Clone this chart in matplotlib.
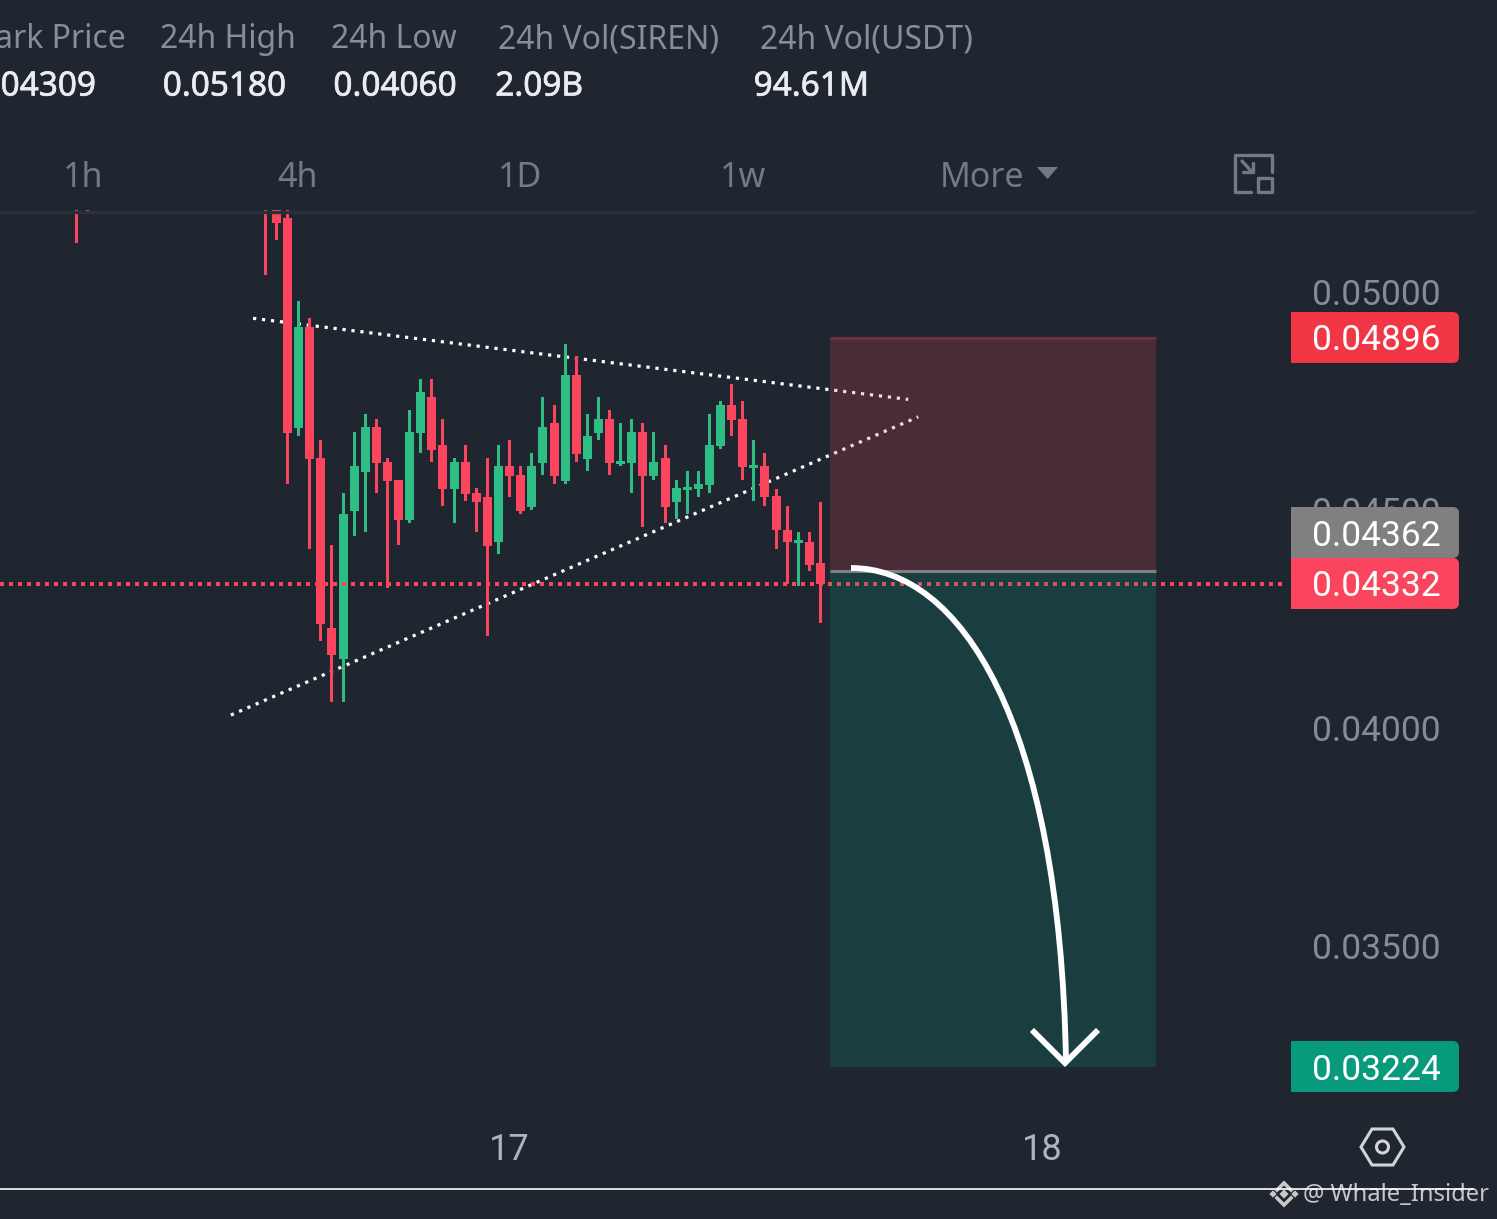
import numpy as np
import matplotlib as mpl
mpl.use("Agg")
import matplotlib.pyplot as plt
import matplotlib.patheffects as pe
from matplotlib.patches import FancyBboxPatch, PathPatch, Polygon, Circle
from matplotlib.path import Path

# prices are stored in units of 0.00001 USDT
indices = list(range(-19, -17)) + list(range(-2, 49))
opens = [5300, 5300, 5300, 5250, 5172, 4690, 4922, 4622, 4232, 4161, 4500, 4589, 4693, 4612, 4571,
         4479, 4679, 4761, 4651, 4550, 4612, 4541, 4532, 4429, 4603, 4583, 4509, 4610, 4702, 4569,
         4812, 4619, 4679, 4711, 4608, 4610, 4681, 4580, 4622, 4521, 4548, 4550, 4560, 4649, 4743,
         4711, 4599, 4603, 4534, 4456, 4427, 4429, 4381]
closes = [5250, 5250, 5250, 5161, 4679, 4922, 4619, 4241, 4170, 4493, 4603, 4693, 4610, 4569, 4479,
          4681, 4773, 4640, 4550, 4612, 4539, 4521, 4420, 4603, 4580, 4500, 4603, 4693, 4580, 4812,
          4631, 4672, 4711, 4610, 4615, 4681, 4580, 4612, 4509, 4553, 4555, 4562, 4651, 4743, 4709,
          4601, 4606, 4532, 4456, 4429, 4433, 4376, 4332]
highs = [5350, 5350, 5350, 5300, 5300, 4982, 4943, 4663, 4422, 4541, 4681, 4722, 4711, 4622, 4571,
         4732, 4803, 4803, 4711, 4622, 4651, 4553, 4622, 4651, 4663, 4603, 4633, 4761, 4743, 4883,
         4856, 4722, 4761, 4732, 4702, 4711, 4702, 4681, 4651, 4571, 4592, 4592, 4722, 4752, 4791,
         4752, 4663, 4633, 4550, 4511, 4452, 4452, 4521]
lows = [5115, 5184, 5041, 5122, 4562, 4672, 4413, 4202, 4062, 4062, 4443, 4452, 4541, 4323, 4422,
        4472, 4633, 4612, 4511, 4472, 4523, 4452, 4213, 4401, 4532, 4493, 4502, 4583, 4562, 4562,
        4612, 4592, 4663, 4583, 4603, 4541, 4463, 4571, 4472, 4482, 4493, 4532, 4541, 4642, 4672,
        4571, 4523, 4511, 4413, 4332, 4328, 4362, 4243]

price_ticks = [0.05, 0.045, 0.04, 0.035]
stop_price = 0.04896
entry_price = 0.04362
last_price = 0.04332
target_price = 0.03224
day_ticks = [20, 68]
day_labels = ["17", "18"]

# trend lines as (candle index, price)
upper_trend = ([-3.1, 55.9], [0.04942, 0.04756])
lower_trend = ([-5.1, 56.8], [0.04032, 0.04716])

header_names = ["Mark Price", "24h High", "24h Low", "24h Vol(SIREN)", "24h Vol(USDT)"]
header_values = ["0.04309", "0.05180", "0.04060", "2.09B", "94.61M"]
tab_labels = ["1h", "4h", "1D", "1w", "More"]

BG = "#1f2630"
RED = "#fb455f"
GREEN = "#2ebd85"
W, H = 1497, 1219

plt.rcParams["font.family"] = ["Roboto", "DejaVu Sans"]

fig = plt.figure(figsize=(W / 100, H / 100), dpi=100, facecolor=BG)

# chart panel: y pixel 210 to 1130, x pixel = 287.5 + 11.104 * candle index
ax = fig.add_axes([0, 1 - 1130 / H, 1, 920 / H], facecolor=BG)
ax.set_xlim(-25.89, 108.92)
ax.set_ylim(0.030803, 0.051904)
for sp in ax.spines.values():
    sp.set_visible(False)
ax.set_xticks([])
ax.set_yticks([])

for i, o, c, h, l in zip(indices, opens, closes, highs, lows):
    col = GREEN if c > o else RED
    z = 2 if c > o else 3
    o, c, h, l = o / 1e5, c / 1e5, h / 1e5, l / 1e5
    ax.bar(i, h - l, bottom=l, width=0.27, color=col, zorder=z, linewidth=0)
    ax.bar(i, abs(c - o), bottom=min(o, c), width=0.81, color=col, zorder=z, linewidth=0)

# dotted trend lines and last price line
for xs, ys in (upper_trend, lower_trend):
    ax.plot(xs, ys, color="white", lw=2.3, ls=(0, (1, 1.82)), zorder=1.5)
ax.plot([-25.89, 89.6], [last_price, last_price], color=RED, lw=2.6, ls=(0, (0.85, 1.64)), zorder=2.5,
        antialiased=False)

# short position box
ax.axhspan(entry_price, stop_price, xmin=830 / W, xmax=1156 / W, facecolor="#f6465d", alpha=0.2,
           linewidth=0, zorder=4)
ax.axhspan(target_price, entry_price, xmin=830 / W, xmax=1156 / W, facecolor="#0aa082", alpha=0.2,
           linewidth=0, zorder=4)
ax.hlines(stop_price, 48.85, 78.2, color="#6e2f3a", lw=2.2, zorder=4.1)
ax.hlines(entry_price, 48.85, 78.2, color="#808080", lw=2.2, zorder=4.1)

# price axis text (0.04500 sits under the grey label)
for p in price_ticks:
    ax.annotate(f"{p:.5f}", (1376 / 11.104 - 25.89, p), xytext=(0, -1.8), textcoords="offset points",
                color="#848c98", fontsize=25.5, ha="center", va="center", zorder=5)
for d, lab in zip(day_ticks, day_labels):
    ax.annotate(lab, (d, 0.03080), xytext=(0, -14.5), textcoords="offset points", color="#aeb4bc",
                fontsize=26, ha="center", va="center", zorder=5, annotation_clip=False)

# overlay in pixel coordinates for the app chrome
ov = fig.add_axes([0, 0, 1, 1], facecolor="none")
ov.set_xlim(0, W)
ov.set_ylim(H, 0)
ov.axis("off")

tag_specs = [(312, "#f23645", "0.04896"), (507, "#808080", "0.04362"),
             (558, "#fb455f", "0.04332"), (1041, "#089a7c", "0.03224")]
for top, col, txt in tag_specs:
    ov.add_patch(FancyBboxPatch((1293, top + 2), 164, 47, boxstyle="round,pad=0,rounding_size=4",
                                fc=col, ec=col, lw=2.8, zorder=6))
    ov.add_patch(Polygon([(1291, top), (1400, top), (1400, top + 51), (1291, top + 51)], fc=col, ec="none", zorder=6))
    ov.text(1376, top + 29, txt, color="white", fontsize=25.5, ha="center", va="center", zorder=7)

# header
name_right = [126, 296, 457, 719, 973]
value_right = [96, 286, 457, 583, 869]
for name, val, nr, vr in zip(header_names, header_values, name_right, value_right):
    ov.text(nr, 40, name, color="#848e9c", fontsize=23, family="Noto Sans", ha="right", va="center")
    ov.text(vr, 87, val, color="#eaecef", fontsize=24, family="Noto Sans", ha="right", va="center",
            path_effects=[pe.withStroke(linewidth=0.5, foreground="#eaecef")])

# tabs
tab_x = [83, 298, 520, 743, 982]
for lab, x in zip(tab_labels, tab_x):
    ov.text(x, 178, lab, color="#707a8a", fontsize=24.5, family="Noto Sans", ha="center", va="center")
ov.add_patch(Polygon([(1037, 167), (1058, 167), (1047.5, 179)], fc="#707a8a", ec="none"))

# layout switch icon
icon = dict(color="#707a8a", lw=2.4, solid_capstyle="round", solid_joinstyle="round")
ov.plot([1272, 1272, 1235, 1235, 1251], [172, 155, 155, 192, 192], **icon)
ov.plot([1258, 1272, 1272, 1258, 1258], [178, 178, 192, 192, 178], **icon)
ov.plot([1242, 1252], [161, 172], **icon)
ov.plot([1253, 1253, 1243], [163, 172, 172], **icon)

ov.plot([0, 1473], [212, 212], color="#29313d", lw=2.4, zorder=1)
ov.plot([0, 1473], [1189, 1189], color="white", lw=1.2, zorder=9)

# hand drawn arrow
verts = [(851, 568), (960, 568), (1060, 720), (1066, 1062)]
ov.add_patch(PathPatch(Path(verts, [Path.MOVETO, Path.CURVE4, Path.CURVE4, Path.CURVE4]),
                       fc="none", ec="white", lw=4.2, zorder=8))
ov.plot([1034, 1065, 1096], [1032, 1063, 1032], color="white", lw=4.2, zorder=8, solid_joinstyle="miter")

# settings hexagon
ov.add_patch(Polygon([(1361, 1147), (1372, 1129), (1393, 1129), (1404, 1147), (1393, 1165), (1372, 1165)],
                     fc="none", ec="#d2d5d8", lw=2.2))
ov.add_patch(Circle((1382.5, 1147), 6, fc="none", ec="#d2d5d8", lw=2.2))

# watermark with exchange logo
logo = "#c8c8c8"
ov.plot([1277, 1284, 1291], [1190, 1183, 1190], color=logo, lw=2.6, solid_joinstyle="miter")
ov.plot([1277, 1284, 1291], [1198, 1205, 1198], color=logo, lw=2.6, solid_joinstyle="miter")
ov.scatter([1273, 1284, 1295], [1194, 1194, 1194], marker="D", s=[14, 22, 14], color=logo, linewidths=0)
ov.text(1303, 1195, "@ Whale_Insider", color="#c4c6c8", fontsize=17.1, family="Noto Sans", ha="left", va="center")

fig.savefig("out.png", dpi=100, facecolor=BG)
